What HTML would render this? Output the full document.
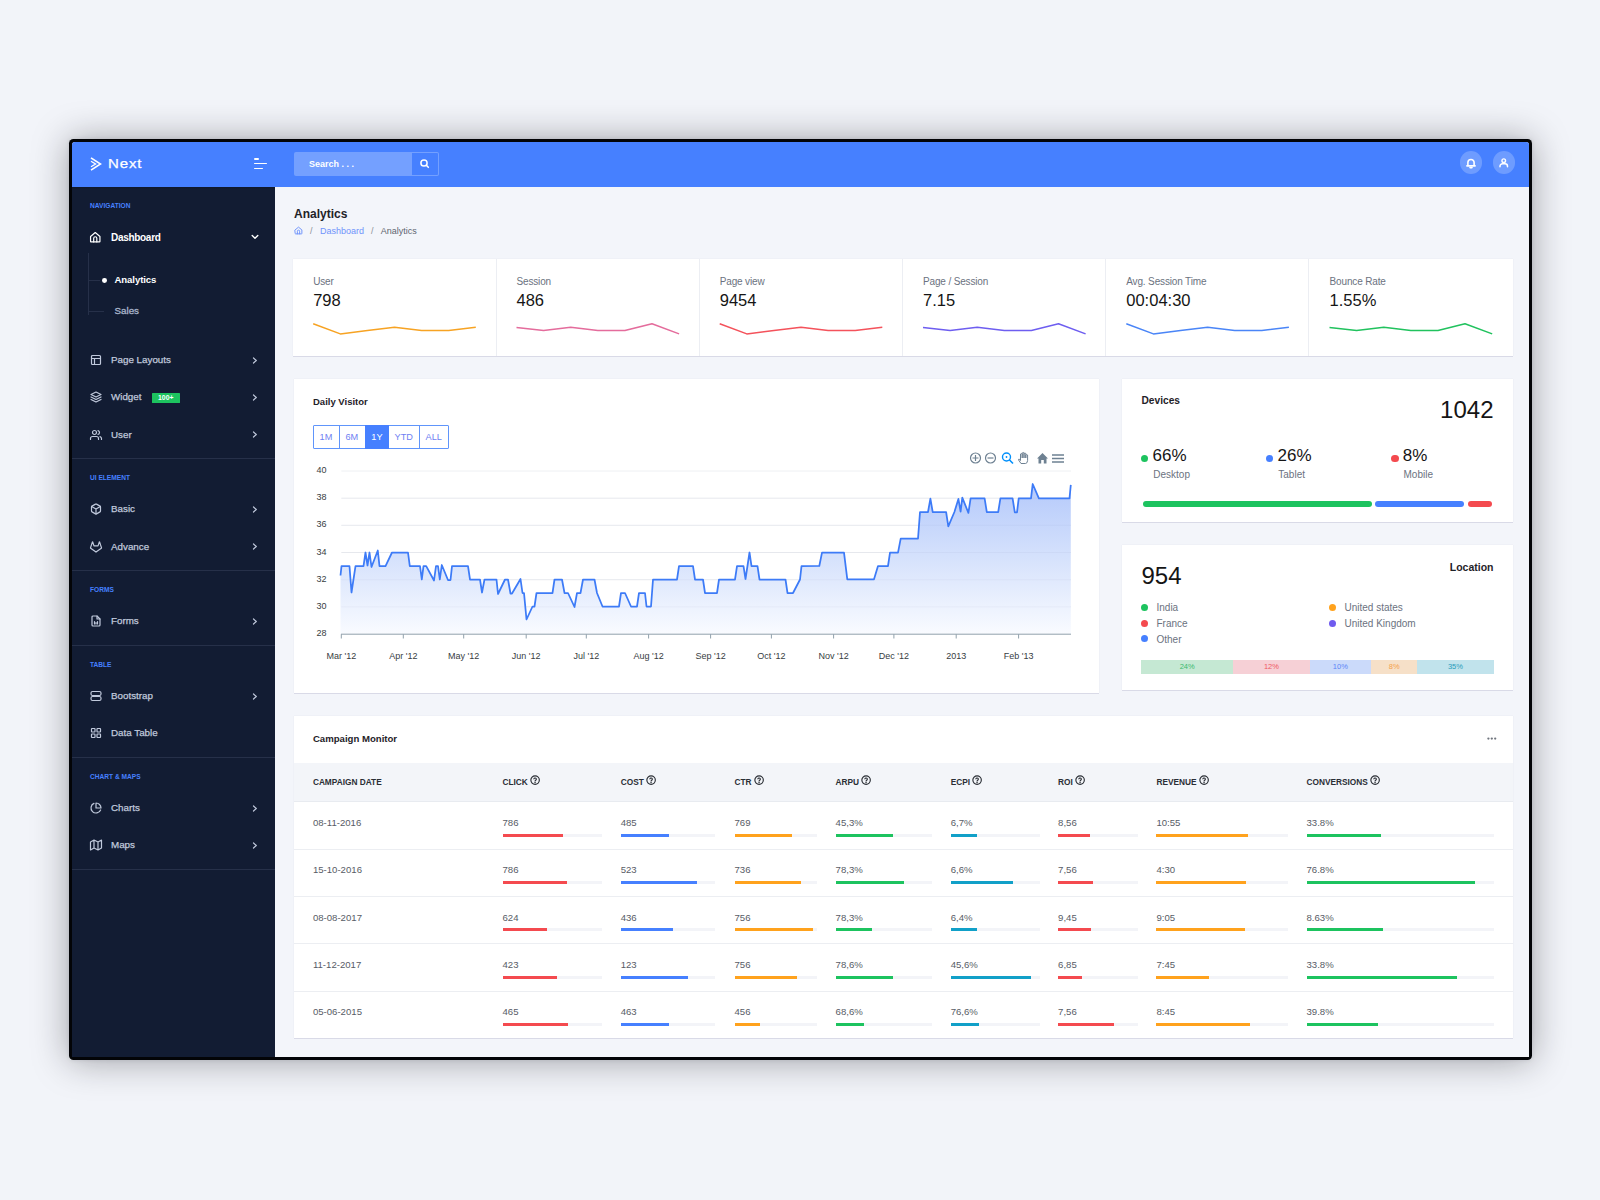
<!DOCTYPE html>
<html><head><meta charset="utf-8"><title>Next Analytics</title>
<style>
html,body{margin:0;padding:0;}
body{width:1600px;height:1200px;position:relative;overflow:hidden;background:#f2f4f9;font-family:"Liberation Sans", sans-serif;}
.t{position:absolute;white-space:nowrap;}
.b{position:absolute;}
svg{position:absolute;overflow:visible;}
</style></head><body>

<div class="b" style="left:69.00px;top:139.00px;width:1463.00px;height:921.00px;background:#030407;border-radius:4.5px;box-shadow:0 1px 36px rgba(22,22,30,0.38),0 0 4px rgba(22,22,30,0.10);"></div>
<div class="b" style="left:72.00px;top:142.00px;width:1457.00px;height:915.00px;background:#f3f5fa;border-radius:3px 3px 0 0;"></div>
<div class="b" style="left:72.00px;top:142.00px;width:1457.00px;height:44.50px;background:#4680ff;border-radius:3px 3px 0 0;"></div>
<div class="b" style="left:72.00px;top:186.50px;width:202.50px;height:870.50px;background:#121c33;"></div>
<div class="b" style="left:72.00px;top:186.50px;width:202.50px;height:3.50px;background:linear-gradient(rgba(0,0,0,0.18),rgba(0,0,0,0));"></div>
<svg style="left:90px;top:157px" width="12" height="14" viewBox="0 0 12 14"><path d="M1 0.8 L10.5 7 L1 13.2" fill="none" stroke="#fff" stroke-width="1.6" stroke-linejoin="miter"/><path d="M1 4.2 L5.6 7 L1 9.8" fill="none" stroke="#fff" stroke-width="1.3"/></svg>
<div class="t" style="left:108.00px;top:157.10px;font-size:12px;line-height:14.40px;font-weight:400;color:#ffffff;letter-spacing:0.7px;transform:scaleX(1.25);transform-origin:0 50%;-webkit-text-stroke:0.25px #fff;">Next</div>
<div class="b" style="left:254.40px;top:158.20px;width:4.80px;height:1.40px;background:#fff;border-radius:1px;"></div>
<div class="b" style="left:254.40px;top:163.10px;width:12.60px;height:1.40px;background:#fff;border-radius:1px;"></div>
<div class="b" style="left:254.40px;top:167.90px;width:8.60px;height:1.40px;background:#fff;border-radius:1px;"></div>
<div class="b" style="left:293.80px;top:151.80px;width:145.00px;height:24.00px;background:rgba(255,255,255,0.25);border-radius:2px;"></div>
<div class="b" style="left:411.90px;top:152.60px;width:26.20px;height:22.40px;background:#4680ff;border-radius:0 1px 1px 0;"></div>
<div class="t" style="left:309.00px;top:158.60px;font-size:9px;line-height:10.80px;font-weight:700;color:#ffffff;">Search . . .</div>
<svg style="left:419px;top:158px" width="11" height="11" viewBox="0 0 11 11"><circle cx="5" cy="5" r="3.1" fill="none" stroke="#fff" stroke-width="1.5"/><path d="M7.3 7.3 L9.3 9.3" stroke="#fff" stroke-width="1.6" stroke-linecap="round"/></svg>
<div class="b" style="left:1459.65px;top:151.25px;width:22.5px;height:22.5px;border-radius:50%;background:rgba(255,255,255,0.22);"></div>
<div class="b" style="left:1492.50px;top:151.25px;width:22.5px;height:22.5px;border-radius:50%;background:rgba(255,255,255,0.22);"></div>
<svg style="left:1466px;top:157.5px" width="10" height="10.5" viewBox="0 0 10 10.5"><path d="M1.9 7.6 V4.6 A3.1 3.1 0 0 1 8.1 4.6 V7.6 M0.9 7.9 H9.1" fill="none" stroke="#fff" stroke-width="1.6" stroke-linecap="round"/><path d="M4 9.6 H6" stroke="#fff" stroke-width="1.6" stroke-linecap="round"/></svg>
<svg style="left:1499px;top:158px" width="9.5" height="9.5" viewBox="0 0 9.5 9.5"><circle cx="4.75" cy="2.7" r="1.8" fill="none" stroke="#fff" stroke-width="1.4"/><path d="M1 8.8 V8.3 A2.5 2.5 0 0 1 3.5 5.8 H6 A2.5 2.5 0 0 1 8.5 8.3 V8.8" fill="none" stroke="#fff" stroke-width="1.5" stroke-linecap="round"/></svg>
<div class="t" style="left:90.00px;top:202.04px;font-size:6.6px;line-height:7.92px;font-weight:700;color:#4680ff;letter-spacing:0px;">NAVIGATION</div>
<svg style="left:89px;top:230.5px" width="12.5" height="12.5" viewBox="0 0 24 24" fill="none" stroke="#fff" stroke-width="2.3" stroke-linecap="round" stroke-linejoin="round"><path d="M3 10.5 L12 3 L21 10.5 V20 a1 1 0 0 1 -1 1 H4 a1 1 0 0 1 -1 -1 Z"/><path d="M9 21 V14 a3 3 0 0 1 6 0 V21"/></svg>
<div class="t" style="left:111.00px;top:232.20px;font-size:10px;line-height:12.00px;font-weight:700;color:#ffffff;letter-spacing:-0.3px;">Dashboard</div>
<svg style="left:251px;top:233.5px" width="8" height="6" viewBox="0 0 8 6"><path d="M1.2 1.5 L4 4.3 L6.8 1.5" fill="none" stroke="#fff" stroke-width="1.4" stroke-linecap="round" stroke-linejoin="round"/></svg>
<div class="b" style="left:88.00px;top:253.00px;width:0.80px;height:61.50px;background:#263049;"></div>
<div class="b" style="left:88.00px;top:279.60px;width:12.00px;height:0.80px;background:#263049;"></div>
<div class="b" style="left:88.00px;top:310.60px;width:16.00px;height:0.80px;background:#263049;"></div>
<div class="b" style="left:102.2px;top:277.8px;width:4.8px;height:4.8px;border-radius:50%;background:#fff;"></div>
<div class="t" style="left:114.50px;top:274.24px;font-size:9.6px;line-height:11.52px;font-weight:700;color:#ffffff;letter-spacing:-0.1px;">Analytics</div>
<div class="t" style="left:114.50px;top:305.12px;font-size:9.8px;line-height:11.76px;font-weight:400;color:#aab6cc;-webkit-text-stroke:0.3px #aab6cc;">Sales</div>
<svg style="left:89.5px;top:354.20px" width="12" height="12" viewBox="0 0 24 24" fill="none" stroke="#c0c9dc" stroke-width="2.4" stroke-linecap="round" stroke-linejoin="round"><rect x="3" y="3" width="18" height="18" rx="2"/><path d="M3 9 H21 M9 21 V9"/></svg>
<div class="t" style="left:111.00px;top:354.32px;font-size:9.8px;line-height:11.76px;font-weight:400;color:#c0c9dc;-webkit-text-stroke:0.25px #c0c9dc;">Page Layouts</div>
<svg style="left:251.5px;top:356.70px" width="6" height="7" viewBox="0 0 6 7"><path d="M1.5 1 L4.3 3.5 L1.5 6" fill="none" stroke="#c0c9dc" stroke-width="1.2" stroke-linecap="round" stroke-linejoin="round"/></svg>
<svg style="left:89.5px;top:391.00px" width="12" height="12" viewBox="0 0 24 24" fill="none" stroke="#c0c9dc" stroke-width="2.4" stroke-linecap="round" stroke-linejoin="round"><path d="M12 2 L2 7 L12 12 L22 7 Z"/><path d="M2 17 L12 22 L22 17"/><path d="M2 12 L12 17 L22 12"/></svg>
<div class="t" style="left:111.00px;top:391.12px;font-size:9.8px;line-height:11.76px;font-weight:400;color:#c0c9dc;-webkit-text-stroke:0.25px #c0c9dc;">Widget</div>
<svg style="left:251.5px;top:393.50px" width="6" height="7" viewBox="0 0 6 7"><path d="M1.5 1 L4.3 3.5 L1.5 6" fill="none" stroke="#c0c9dc" stroke-width="1.2" stroke-linecap="round" stroke-linejoin="round"/></svg>
<div class="b" style="left:151.90px;top:392.50px;width:27.70px;height:10.60px;background:#1dc35f;border-radius:0.5px;"></div>
<div class="t" style="left:65.75px;width:200px;text-align:center;top:393.72px;font-size:6.8px;line-height:8.16px;font-weight:700;color:#ffffff;">100+</div>
<svg style="left:89.5px;top:428.60px" width="12" height="12" viewBox="0 0 24 24" fill="none" stroke="#c0c9dc" stroke-width="2.4" stroke-linecap="round" stroke-linejoin="round"><path d="M17 21 v-2 a4 4 0 0 0 -4 -4 H5 a4 4 0 0 0 -4 4 v2"/><circle cx="9" cy="7" r="4"/><path d="M23 21 v-2 a4 4 0 0 0 -3 -3.87 M16 3.13 a4 4 0 0 1 0 7.75"/></svg>
<div class="t" style="left:111.00px;top:428.72px;font-size:9.8px;line-height:11.76px;font-weight:400;color:#c0c9dc;-webkit-text-stroke:0.25px #c0c9dc;">User</div>
<svg style="left:251.5px;top:431.10px" width="6" height="7" viewBox="0 0 6 7"><path d="M1.5 1 L4.3 3.5 L1.5 6" fill="none" stroke="#c0c9dc" stroke-width="1.2" stroke-linecap="round" stroke-linejoin="round"/></svg>
<div class="b" style="left:72.00px;top:457.80px;width:202.50px;height:1.00px;background:#263049;"></div>
<div class="t" style="left:90.00px;top:474.24px;font-size:6.6px;line-height:7.92px;font-weight:700;color:#4680ff;letter-spacing:0px;">UI ELEMENT</div>
<svg style="left:89.5px;top:503.30px" width="12" height="12" viewBox="0 0 24 24" fill="none" stroke="#c0c9dc" stroke-width="2.4" stroke-linecap="round" stroke-linejoin="round"><path d="M21 16 V8 a2 2 0 0 0 -1 -1.73 l-7 -4 a2 2 0 0 0 -2 0 l-7 4 A2 2 0 0 0 3 8 v8 a2 2 0 0 0 1 1.73 l7 4 a2 2 0 0 0 2 0 l7 -4 A2 2 0 0 0 21 16 z"/><path d="M3.27 6.96 L12 12.01 L20.73 6.96 M12 22.08 V12"/></svg>
<div class="t" style="left:111.00px;top:503.42px;font-size:9.8px;line-height:11.76px;font-weight:400;color:#c0c9dc;-webkit-text-stroke:0.25px #c0c9dc;">Basic</div>
<svg style="left:251.5px;top:505.80px" width="6" height="7" viewBox="0 0 6 7"><path d="M1.5 1 L4.3 3.5 L1.5 6" fill="none" stroke="#c0c9dc" stroke-width="1.2" stroke-linecap="round" stroke-linejoin="round"/></svg>
<svg style="left:89.5px;top:540.70px" width="12" height="12" viewBox="0 0 24 24" fill="none" stroke="#c0c9dc" stroke-width="2.4" stroke-linecap="round" stroke-linejoin="round"><path d="M22.65 14.39 L12 22.13 L1.35 14.39 a.84 .84 0 0 1 -.3 -.94 l1.22 -3.78 2.44 -7.51 A.42 .42 0 0 1 4.82 2 a.43 .43 0 0 1 .58 0 .42 .42 0 0 1 .11 .18 l2.44 7.49 h8.1 l2.44 -7.51 A.42 .42 0 0 1 18.6 2 a.43 .43 0 0 1 .58 0 .42 .42 0 0 1 .11 .18 l2.44 7.51 L23 13.45 a.84 .84 0 0 1 -.35 .94 z"/></svg>
<div class="t" style="left:111.00px;top:540.82px;font-size:9.8px;line-height:11.76px;font-weight:400;color:#c0c9dc;-webkit-text-stroke:0.25px #c0c9dc;">Advance</div>
<svg style="left:251.5px;top:543.20px" width="6" height="7" viewBox="0 0 6 7"><path d="M1.5 1 L4.3 3.5 L1.5 6" fill="none" stroke="#c0c9dc" stroke-width="1.2" stroke-linecap="round" stroke-linejoin="round"/></svg>
<div class="b" style="left:72.00px;top:569.80px;width:202.50px;height:1.00px;background:#263049;"></div>
<div class="t" style="left:90.00px;top:586.34px;font-size:6.6px;line-height:7.92px;font-weight:700;color:#4680ff;letter-spacing:0px;">FORMS</div>
<svg style="left:89.5px;top:615.25px" width="12" height="12" viewBox="0 0 24 24" fill="none" stroke="#c0c9dc" stroke-width="2.4" stroke-linecap="round" stroke-linejoin="round"><path d="M14 2 H6 a2 2 0 0 0 -2 2 v16 a2 2 0 0 0 2 2 h12 a2 2 0 0 0 2 -2 V8 z"/><path d="M14 2 v6 h6 M9 13 v5 M12 15 v3 M15 13 v5"/></svg>
<div class="t" style="left:111.00px;top:615.37px;font-size:9.8px;line-height:11.76px;font-weight:400;color:#c0c9dc;-webkit-text-stroke:0.25px #c0c9dc;">Forms</div>
<svg style="left:251.5px;top:617.75px" width="6" height="7" viewBox="0 0 6 7"><path d="M1.5 1 L4.3 3.5 L1.5 6" fill="none" stroke="#c0c9dc" stroke-width="1.2" stroke-linecap="round" stroke-linejoin="round"/></svg>
<div class="b" style="left:72.00px;top:645.00px;width:202.50px;height:1.00px;background:#263049;"></div>
<div class="t" style="left:90.00px;top:661.09px;font-size:6.6px;line-height:7.92px;font-weight:700;color:#4680ff;letter-spacing:0px;">TABLE</div>
<svg style="left:89.5px;top:690.25px" width="12" height="12" viewBox="0 0 24 24" fill="none" stroke="#c0c9dc" stroke-width="2.4" stroke-linecap="round" stroke-linejoin="round"><rect x="2" y="3" width="20" height="8" rx="3"/><rect x="2" y="13" width="20" height="8" rx="3"/></svg>
<div class="t" style="left:111.00px;top:690.37px;font-size:9.8px;line-height:11.76px;font-weight:400;color:#c0c9dc;-webkit-text-stroke:0.25px #c0c9dc;">Bootstrap</div>
<svg style="left:251.5px;top:692.75px" width="6" height="7" viewBox="0 0 6 7"><path d="M1.5 1 L4.3 3.5 L1.5 6" fill="none" stroke="#c0c9dc" stroke-width="1.2" stroke-linecap="round" stroke-linejoin="round"/></svg>
<svg style="left:89.5px;top:727.25px" width="12" height="12" viewBox="0 0 24 24" fill="none" stroke="#c0c9dc" stroke-width="2.4" stroke-linecap="round" stroke-linejoin="round"><rect x="3" y="3" width="7" height="7" rx="1"/><rect x="14" y="3" width="7" height="7" rx="1"/><rect x="14" y="14" width="7" height="7" rx="1"/><rect x="3" y="14" width="7" height="7" rx="1"/></svg>
<div class="t" style="left:111.00px;top:727.37px;font-size:9.8px;line-height:11.76px;font-weight:400;color:#c0c9dc;-webkit-text-stroke:0.25px #c0c9dc;">Data Table</div>
<div class="b" style="left:72.00px;top:757.00px;width:202.50px;height:1.00px;background:#263049;"></div>
<div class="t" style="left:90.00px;top:773.09px;font-size:6.6px;line-height:7.92px;font-weight:700;color:#4680ff;letter-spacing:0px;">CHART &amp; MAPS</div>
<svg style="left:89.5px;top:802.00px" width="12" height="12" viewBox="0 0 24 24" fill="none" stroke="#c0c9dc" stroke-width="2.4" stroke-linecap="round" stroke-linejoin="round"><path d="M21.21 15.89 A10 10 0 1 1 8 2.83"/><path d="M22 12 A10 10 0 0 0 12 2 v10 z"/></svg>
<div class="t" style="left:111.00px;top:802.12px;font-size:9.8px;line-height:11.76px;font-weight:400;color:#c0c9dc;-webkit-text-stroke:0.25px #c0c9dc;">Charts</div>
<svg style="left:251.5px;top:804.50px" width="6" height="7" viewBox="0 0 6 7"><path d="M1.5 1 L4.3 3.5 L1.5 6" fill="none" stroke="#c0c9dc" stroke-width="1.2" stroke-linecap="round" stroke-linejoin="round"/></svg>
<svg style="left:89.5px;top:839.00px" width="12" height="12" viewBox="0 0 24 24" fill="none" stroke="#c0c9dc" stroke-width="2.4" stroke-linecap="round" stroke-linejoin="round"><path d="M1 6 v16 l7 -4 8 4 7 -4 V2 l-7 4 -8 -4 -7 4 z M8 2 v16 M16 6 v16"/></svg>
<div class="t" style="left:111.00px;top:839.12px;font-size:9.8px;line-height:11.76px;font-weight:400;color:#c0c9dc;-webkit-text-stroke:0.25px #c0c9dc;">Maps</div>
<svg style="left:251.5px;top:841.50px" width="6" height="7" viewBox="0 0 6 7"><path d="M1.5 1 L4.3 3.5 L1.5 6" fill="none" stroke="#c0c9dc" stroke-width="1.2" stroke-linecap="round" stroke-linejoin="round"/></svg>
<div class="b" style="left:72.00px;top:869.00px;width:202.50px;height:1.00px;background:#263049;"></div>
<div class="t" style="left:294.00px;top:206.60px;font-size:12px;line-height:14.40px;font-weight:700;color:#1f2228;">Analytics</div>
<svg style="left:294px;top:225.5px" width="9" height="9" viewBox="0 0 24 24" fill="none" stroke="#6f93fb" stroke-width="2.6" stroke-linecap="round" stroke-linejoin="round"><path d="M3 10.5 L12 3 L21 10.5 V20 a1 1 0 0 1 -1 1 H4 a1 1 0 0 1 -1 -1 Z"/><path d="M9 21 V14 a3 3 0 0 1 6 0 V21"/></svg>
<div class="t" style="left:310.00px;top:226.20px;font-size:9px;line-height:10.80px;font-weight:400;color:#8a8f98;">/</div>
<div class="t" style="left:320.00px;top:226.20px;font-size:9px;line-height:10.80px;font-weight:400;color:#6f93fb;">Dashboard</div>
<div class="t" style="left:371.00px;top:226.20px;font-size:9px;line-height:10.80px;font-weight:400;color:#8a8f98;">/</div>
<div class="t" style="left:380.80px;top:226.20px;font-size:9px;line-height:10.80px;font-weight:400;color:#5f6570;">Analytics</div>
<div class="b" style="left:293.20px;top:258.80px;width:1219.60px;height:97.10px;background:#fff;box-shadow:0 1px 0 rgba(70,72,120,0.13),0 0 1px rgba(70,72,120,0.12);"></div>
<div class="b" style="left:496.00px;top:258.80px;width:1.00px;height:97.10px;background:#eceef3;"></div>
<div class="b" style="left:699.00px;top:258.80px;width:1.00px;height:97.10px;background:#eceef3;"></div>
<div class="b" style="left:901.70px;top:258.80px;width:1.00px;height:97.10px;background:#eceef3;"></div>
<div class="b" style="left:1104.80px;top:258.80px;width:1.00px;height:97.10px;background:#eceef3;"></div>
<div class="b" style="left:1308.00px;top:258.80px;width:1.00px;height:97.10px;background:#eceef3;"></div>
<div class="t" style="left:313.20px;top:276.30px;font-size:10px;line-height:12.00px;font-weight:400;color:#6b7280;letter-spacing:-0.15px;">User</div>
<div class="t" style="left:313.20px;top:291.20px;font-size:16.5px;line-height:19.80px;font-weight:400;color:#151515;">798</div>
<svg style="left:0;top:0" width="1600" height="1200"><polyline points="313.2,323.7 340.3,333.9 367.4,330.6 394.5,327.3 421.6,330.6 448.7,330.6 475.8,327.3" fill="none" stroke="#f7a323" stroke-width="1.5" stroke-linejoin="round"/></svg>
<div class="t" style="left:516.47px;top:276.30px;font-size:10px;line-height:12.00px;font-weight:400;color:#6b7280;letter-spacing:-0.15px;">Session</div>
<div class="t" style="left:516.47px;top:291.20px;font-size:16.5px;line-height:19.80px;font-weight:400;color:#151515;">486</div>
<svg style="left:0;top:0" width="1600" height="1200"><polyline points="516.5,327.6 543.6,330.6 570.7,327.3 597.8,330.6 624.9,330.6 652.0,323.7 679.1,333.9" fill="none" stroke="#e46c9c" stroke-width="1.5" stroke-linejoin="round"/></svg>
<div class="t" style="left:719.74px;top:276.30px;font-size:10px;line-height:12.00px;font-weight:400;color:#6b7280;letter-spacing:-0.15px;">Page view</div>
<div class="t" style="left:719.74px;top:291.20px;font-size:16.5px;line-height:19.80px;font-weight:400;color:#151515;">9454</div>
<svg style="left:0;top:0" width="1600" height="1200"><polyline points="719.7,323.7 746.8,333.9 773.9,330.6 801.0,327.3 828.1,330.6 855.2,330.6 882.3,327.3" fill="none" stroke="#f4525b" stroke-width="1.5" stroke-linejoin="round"/></svg>
<div class="t" style="left:923.01px;top:276.30px;font-size:10px;line-height:12.00px;font-weight:400;color:#6b7280;letter-spacing:-0.15px;">Page / Session</div>
<div class="t" style="left:923.01px;top:291.20px;font-size:16.5px;line-height:19.80px;font-weight:400;color:#151515;">7.15</div>
<svg style="left:0;top:0" width="1600" height="1200"><polyline points="923.0,327.6 950.1,330.6 977.2,327.3 1004.3,330.6 1031.4,330.6 1058.5,323.7 1085.6,333.9" fill="none" stroke="#6e5ef0" stroke-width="1.5" stroke-linejoin="round"/></svg>
<div class="t" style="left:1126.28px;top:276.30px;font-size:10px;line-height:12.00px;font-weight:400;color:#6b7280;letter-spacing:-0.15px;">Avg. Session Time</div>
<div class="t" style="left:1126.28px;top:291.20px;font-size:16.5px;line-height:19.80px;font-weight:400;color:#151515;">00:04:30</div>
<svg style="left:0;top:0" width="1600" height="1200"><polyline points="1126.3,323.7 1153.4,333.9 1180.5,330.6 1207.6,327.3 1234.7,330.6 1261.8,330.6 1288.9,327.3" fill="none" stroke="#4a85f7" stroke-width="1.5" stroke-linejoin="round"/></svg>
<div class="t" style="left:1329.55px;top:276.30px;font-size:10px;line-height:12.00px;font-weight:400;color:#6b7280;letter-spacing:-0.15px;">Bounce Rate</div>
<div class="t" style="left:1329.55px;top:291.20px;font-size:16.5px;line-height:19.80px;font-weight:400;color:#151515;">1.55%</div>
<svg style="left:0;top:0" width="1600" height="1200"><polyline points="1329.5,327.6 1356.6,330.6 1383.8,327.3 1410.8,330.6 1438.0,330.6 1465.0,323.7 1492.2,333.9" fill="none" stroke="#21c25e" stroke-width="1.5" stroke-linejoin="round"/></svg>
<div class="b" style="left:293.50px;top:379.20px;width:805.90px;height:314.10px;background:#fff;box-shadow:0 1px 0 rgba(70,72,120,0.13),0 0 1px rgba(70,72,120,0.12);"></div>
<div class="t" style="left:313.00px;top:396.30px;font-size:9.5px;line-height:11.40px;font-weight:700;color:#1f2228;">Daily Visitor</div>
<div class="b" style="left:313.00px;top:425.00px;width:135.50px;height:23.70px;border:1px solid #6095fb;box-sizing:border-box;border-radius:1px;"></div>
<div class="b" style="left:365.00px;top:425.00px;width:23.70px;height:23.70px;background:#4680ff;"></div>
<div class="b" style="left:338.90px;top:425.00px;width:1.00px;height:23.70px;background:#6095fb;"></div>
<div class="b" style="left:419.00px;top:425.00px;width:1.00px;height:23.70px;background:#6095fb;"></div>
<div class="t" style="left:226.00px;width:200px;text-align:center;top:432.08px;font-size:9.2px;line-height:11.04px;font-weight:400;color:#6f7ff2;">1M</div>
<div class="t" style="left:251.90px;width:200px;text-align:center;top:432.08px;font-size:9.2px;line-height:11.04px;font-weight:400;color:#6f7ff2;">6M</div>
<div class="t" style="left:276.90px;width:200px;text-align:center;top:432.08px;font-size:9.2px;line-height:11.04px;font-weight:400;color:#ffffff;">1Y</div>
<div class="t" style="left:303.80px;width:200px;text-align:center;top:432.08px;font-size:9.2px;line-height:11.04px;font-weight:400;color:#6f7ff2;">YTD</div>
<div class="t" style="left:333.70px;width:200px;text-align:center;top:432.08px;font-size:9.2px;line-height:11.04px;font-weight:400;color:#6f7ff2;">ALL</div>
<svg style="left:0;top:0" width="1600" height="1200"><defs><linearGradient id="ag" x1="0" y1="0" x2="0" y2="1"><stop offset="0" stop-color="#b4c9fb"/><stop offset="0.5" stop-color="#d6e2fc"/><stop offset="1" stop-color="#f9fbff"/></linearGradient></defs><line x1="341.3" y1="471.0" x2="1071" y2="471.0" stroke="#eef0f3" stroke-width="1"/><line x1="341.3" y1="498.2" x2="1071" y2="498.2" stroke="#eef0f3" stroke-width="1"/><line x1="341.3" y1="525.3" x2="1071" y2="525.3" stroke="#eef0f3" stroke-width="1"/><line x1="341.3" y1="552.5" x2="1071" y2="552.5" stroke="#eef0f3" stroke-width="1"/><line x1="341.3" y1="579.7" x2="1071" y2="579.7" stroke="#eef0f3" stroke-width="1"/><line x1="341.3" y1="606.8" x2="1071" y2="606.8" stroke="#eef0f3" stroke-width="1"/><path d="M340.5,634 L340.5,575.5 341.5,566.2 349.5,566.2 351.5,592.5 355.5,566.2 363.5,566.2 365.5,552.5 367.5,565.5 369.5,552.5 371.5,567.0 377.8,550.5 379.5,566.2 385.5,566.2 392.0,552.5 408.0,552.5 409.8,566.2 420.0,566.2 421.8,579.5 423.5,566.2 426.2,566.2 434.0,580.5 436.0,566.2 438.0,566.2 439.8,579.5 441.8,565.0 448.0,580.0 450.5,580.0 452.0,566.2 468.0,566.2 470.0,579.5 480.0,579.5 482.0,592.5 484.5,579.5 496.5,579.5 498.0,594.0 505.0,579.5 508.0,579.5 510.5,593.5 512.0,593.5 520.5,579.0 522.5,593.0 524.0,593.0 526.5,619.5 532.5,606.5 534.5,606.5 536.5,593.0 552.5,593.0 554.5,579.5 562.0,579.5 564.5,593.0 568.0,593.0 574.5,607.0 577.0,593.0 580.5,593.0 583.0,579.5 594.5,579.5 597.0,593.0 602.5,606.5 619.0,606.5 621.0,593.0 625.0,593.0 631.0,606.5 637.0,606.5 639.0,593.0 645.0,593.0 646.5,606.5 651.0,606.5 653.0,579.5 677.0,579.5 679.0,566.2 693.0,566.2 695.0,579.5 703.0,579.5 705.0,593.0 717.0,593.0 719.0,579.5 735.0,579.5 737.0,566.2 743.5,566.2 745.5,579.0 749.5,552.5 751.5,566.2 757.5,566.2 759.5,579.5 785.5,579.5 787.5,593.0 793.0,593.0 800.0,579.5 801.5,566.2 819.3,566.0 822.0,552.7 844.0,552.7 847.3,579.3 874.0,579.3 878.0,566.0 888.0,566.0 890.0,552.7 898.0,552.7 900.7,538.7 918.0,538.7 920.0,512.0 928.0,512.0 930.4,498.7 932.7,512.0 946.1,512.0 948.3,526.4 954.4,512.0 958.4,498.9 960.6,511.6 962.3,497.6 968.4,512.9 970.6,498.4 984.6,498.4 986.8,512.0 998.2,512.0 1000.4,498.4 1012.6,498.4 1014.8,512.4 1017.0,512.4 1018.7,498.4 1031.0,498.4 1032.7,484.0 1038.9,498.4 1069.5,498.4 1070.8,484.9 L1070.8,634 Z" fill="url(#ag)" stroke="none"/><line x1="341.3" y1="498.2" x2="1071" y2="498.2" stroke="rgba(60,70,110,0.045)" stroke-width="1"/><line x1="341.3" y1="525.3" x2="1071" y2="525.3" stroke="rgba(60,70,110,0.045)" stroke-width="1"/><line x1="341.3" y1="552.5" x2="1071" y2="552.5" stroke="rgba(60,70,110,0.045)" stroke-width="1"/><line x1="341.3" y1="579.7" x2="1071" y2="579.7" stroke="rgba(60,70,110,0.045)" stroke-width="1"/><line x1="341.3" y1="606.8" x2="1071" y2="606.8" stroke="rgba(60,70,110,0.045)" stroke-width="1"/><polyline points="340.5,575.5 341.5,566.2 349.5,566.2 351.5,592.5 355.5,566.2 363.5,566.2 365.5,552.5 367.5,565.5 369.5,552.5 371.5,567.0 377.8,550.5 379.5,566.2 385.5,566.2 392.0,552.5 408.0,552.5 409.8,566.2 420.0,566.2 421.8,579.5 423.5,566.2 426.2,566.2 434.0,580.5 436.0,566.2 438.0,566.2 439.8,579.5 441.8,565.0 448.0,580.0 450.5,580.0 452.0,566.2 468.0,566.2 470.0,579.5 480.0,579.5 482.0,592.5 484.5,579.5 496.5,579.5 498.0,594.0 505.0,579.5 508.0,579.5 510.5,593.5 512.0,593.5 520.5,579.0 522.5,593.0 524.0,593.0 526.5,619.5 532.5,606.5 534.5,606.5 536.5,593.0 552.5,593.0 554.5,579.5 562.0,579.5 564.5,593.0 568.0,593.0 574.5,607.0 577.0,593.0 580.5,593.0 583.0,579.5 594.5,579.5 597.0,593.0 602.5,606.5 619.0,606.5 621.0,593.0 625.0,593.0 631.0,606.5 637.0,606.5 639.0,593.0 645.0,593.0 646.5,606.5 651.0,606.5 653.0,579.5 677.0,579.5 679.0,566.2 693.0,566.2 695.0,579.5 703.0,579.5 705.0,593.0 717.0,593.0 719.0,579.5 735.0,579.5 737.0,566.2 743.5,566.2 745.5,579.0 749.5,552.5 751.5,566.2 757.5,566.2 759.5,579.5 785.5,579.5 787.5,593.0 793.0,593.0 800.0,579.5 801.5,566.2 819.3,566.0 822.0,552.7 844.0,552.7 847.3,579.3 874.0,579.3 878.0,566.0 888.0,566.0 890.0,552.7 898.0,552.7 900.7,538.7 918.0,538.7 920.0,512.0 928.0,512.0 930.4,498.7 932.7,512.0 946.1,512.0 948.3,526.4 954.4,512.0 958.4,498.9 960.6,511.6 962.3,497.6 968.4,512.9 970.6,498.4 984.6,498.4 986.8,512.0 998.2,512.0 1000.4,498.4 1012.6,498.4 1014.8,512.4 1017.0,512.4 1018.7,498.4 1031.0,498.4 1032.7,484.0 1038.9,498.4 1069.5,498.4 1070.8,484.9" fill="none" stroke="#3d7bf7" stroke-width="1.75" stroke-linejoin="round"/><line x1="341" y1="634.2" x2="1071" y2="634.2" stroke="#90a0ac" stroke-width="1"/><line x1="341.3" y1="634.2" x2="341.3" y2="638.5" stroke="#90a0ac" stroke-width="1"/><line x1="403.3" y1="634.2" x2="403.3" y2="638.5" stroke="#90a0ac" stroke-width="1"/><line x1="463.7" y1="634.2" x2="463.7" y2="638.5" stroke="#90a0ac" stroke-width="1"/><line x1="526.2" y1="634.2" x2="526.2" y2="638.5" stroke="#90a0ac" stroke-width="1"/><line x1="586.3" y1="634.2" x2="586.3" y2="638.5" stroke="#90a0ac" stroke-width="1"/><line x1="648.6" y1="634.2" x2="648.6" y2="638.5" stroke="#90a0ac" stroke-width="1"/><line x1="710.6" y1="634.2" x2="710.6" y2="638.5" stroke="#90a0ac" stroke-width="1"/><line x1="771.4" y1="634.2" x2="771.4" y2="638.5" stroke="#90a0ac" stroke-width="1"/><line x1="833.6" y1="634.2" x2="833.6" y2="638.5" stroke="#90a0ac" stroke-width="1"/><line x1="893.9" y1="634.2" x2="893.9" y2="638.5" stroke="#90a0ac" stroke-width="1"/><line x1="956.2" y1="634.2" x2="956.2" y2="638.5" stroke="#90a0ac" stroke-width="1"/><line x1="1018.6" y1="634.2" x2="1018.6" y2="638.5" stroke="#90a0ac" stroke-width="1"/></svg>
<div class="t" style="left:241.30px;width:200px;text-align:center;top:651.40px;font-size:9px;line-height:10.80px;font-weight:400;color:#373d3f;">Mar &#39;12</div>
<div class="t" style="left:303.30px;width:200px;text-align:center;top:651.40px;font-size:9px;line-height:10.80px;font-weight:400;color:#373d3f;">Apr &#39;12</div>
<div class="t" style="left:363.70px;width:200px;text-align:center;top:651.40px;font-size:9px;line-height:10.80px;font-weight:400;color:#373d3f;">May &#39;12</div>
<div class="t" style="left:426.20px;width:200px;text-align:center;top:651.40px;font-size:9px;line-height:10.80px;font-weight:400;color:#373d3f;">Jun &#39;12</div>
<div class="t" style="left:486.30px;width:200px;text-align:center;top:651.40px;font-size:9px;line-height:10.80px;font-weight:400;color:#373d3f;">Jul &#39;12</div>
<div class="t" style="left:548.60px;width:200px;text-align:center;top:651.40px;font-size:9px;line-height:10.80px;font-weight:400;color:#373d3f;">Aug &#39;12</div>
<div class="t" style="left:610.60px;width:200px;text-align:center;top:651.40px;font-size:9px;line-height:10.80px;font-weight:400;color:#373d3f;">Sep &#39;12</div>
<div class="t" style="left:671.40px;width:200px;text-align:center;top:651.40px;font-size:9px;line-height:10.80px;font-weight:400;color:#373d3f;">Oct &#39;12</div>
<div class="t" style="left:733.60px;width:200px;text-align:center;top:651.40px;font-size:9px;line-height:10.80px;font-weight:400;color:#373d3f;">Nov &#39;12</div>
<div class="t" style="left:793.90px;width:200px;text-align:center;top:651.40px;font-size:9px;line-height:10.80px;font-weight:400;color:#373d3f;">Dec &#39;12</div>
<div class="t" style="left:856.20px;width:200px;text-align:center;top:651.40px;font-size:9px;line-height:10.80px;font-weight:400;color:#373d3f;">2013</div>
<div class="t" style="left:918.60px;width:200px;text-align:center;top:651.40px;font-size:9px;line-height:10.80px;font-weight:400;color:#373d3f;">Feb &#39;13</div>
<div class="t" style="left:316.50px;top:465.12px;font-size:9px;line-height:10.80px;font-weight:400;color:#373d3f;">40</div>
<div class="t" style="left:316.50px;top:492.28px;font-size:9px;line-height:10.80px;font-weight:400;color:#373d3f;">38</div>
<div class="t" style="left:316.50px;top:519.44px;font-size:9px;line-height:10.80px;font-weight:400;color:#373d3f;">36</div>
<div class="t" style="left:316.50px;top:546.60px;font-size:9px;line-height:10.80px;font-weight:400;color:#373d3f;">34</div>
<div class="t" style="left:316.50px;top:573.76px;font-size:9px;line-height:10.80px;font-weight:400;color:#373d3f;">32</div>
<div class="t" style="left:316.50px;top:600.92px;font-size:9px;line-height:10.80px;font-weight:400;color:#373d3f;">30</div>
<div class="t" style="left:316.50px;top:628.08px;font-size:9px;line-height:10.80px;font-weight:400;color:#373d3f;">28</div>
<svg style="left:0;top:0" width="1600" height="1200"><circle cx="975.5" cy="458" r="5" fill="none" stroke="#6e8192" stroke-width="1.2"/><path d="M975.5 455 V461 M972.5 458 H978.5" stroke="#6e8192" stroke-width="1.2"/><circle cx="990.5" cy="458" r="5" fill="none" stroke="#6e8192" stroke-width="1.2"/><path d="M987.5 458 H993.5" stroke="#6e8192" stroke-width="1.2"/><circle cx="1006.5" cy="457" r="4" fill="none" stroke="#008ffb" stroke-width="1.4"/><circle cx="1006.5" cy="457" r="0.9" fill="#008ffb"/><path d="M1009.3 459.8 L1013 463.5" stroke="#008ffb" stroke-width="1.6"/><path d="M1021 463.5 L1018.6 460 Q1018.2 459 1019.3 459.2 L1020.5 460.5 V454 Q1021.3 452.8 1022.2 454 V458 V453 Q1023.1 451.9 1024 453 V458 V453.5 Q1025 452.5 1025.8 453.5 V458 V455 Q1026.8 454 1027.6 455 V460.5 Q1027.3 463.5 1025.5 463.5 Z" fill="none" stroke="#6e8192" stroke-width="1.0" stroke-linejoin="round"/><path d="M1037 458.5 L1042.5 453 L1048 458.5 H1046.5 V463.5 H1043.8 V460 H1041.2 V463.5 H1038.5 V458.5 Z" fill="#6e8192"/><path d="M1052 455 H1064 M1052 458.5 H1064 M1052 462 H1064" stroke="#6e8192" stroke-width="1.3"/></svg>
<div class="b" style="left:1121.80px;top:379.20px;width:391.10px;height:143.00px;background:#fff;box-shadow:0 1px 0 rgba(70,72,120,0.13),0 0 1px rgba(70,72,120,0.12);"></div>
<div class="t" style="left:1141.50px;top:395.48px;font-size:10.2px;line-height:12.24px;font-weight:700;color:#1f2228;">Devices</div>
<div class="t" style="right:106.50px;top:396.40px;font-size:24px;line-height:28.80px;font-weight:400;color:#151515;">1042</div>
<div class="b" style="left:1141.2px;top:455px;width:7.2px;height:7.2px;border-radius:50%;background:#1dc35f;"></div>
<div class="t" style="left:1152.50px;top:445.80px;font-size:17px;line-height:20.40px;font-weight:400;color:#151515;">66%</div>
<div class="t" style="left:1153.30px;top:468.50px;font-size:10px;line-height:12.00px;font-weight:400;color:#6b7280;">Desktop</div>
<div class="b" style="left:1266.2px;top:455px;width:7.2px;height:7.2px;border-radius:50%;background:#4680ff;"></div>
<div class="t" style="left:1277.50px;top:445.80px;font-size:17px;line-height:20.40px;font-weight:400;color:#151515;">26%</div>
<div class="t" style="left:1278.30px;top:468.50px;font-size:10px;line-height:12.00px;font-weight:400;color:#6b7280;">Tablet</div>
<div class="b" style="left:1391.4px;top:455px;width:7.2px;height:7.2px;border-radius:50%;background:#f44a4f;"></div>
<div class="t" style="left:1402.70px;top:445.80px;font-size:17px;line-height:20.40px;font-weight:400;color:#151515;">8%</div>
<div class="t" style="left:1403.50px;top:468.50px;font-size:10px;line-height:12.00px;font-weight:400;color:#6b7280;">Mobile</div>
<div class="b" style="left:1142.80px;top:500.90px;width:228.90px;height:5.70px;background:#1dc35f;border-radius:3px;"></div>
<div class="b" style="left:1375.00px;top:500.90px;width:88.80px;height:5.70px;background:#4680ff;border-radius:3px;"></div>
<div class="b" style="left:1467.50px;top:500.90px;width:24.70px;height:5.70px;background:#f44a4f;border-radius:3px;"></div>
<div class="b" style="left:1121.80px;top:545.00px;width:391.10px;height:144.90px;background:#fff;box-shadow:0 1px 0 rgba(70,72,120,0.13),0 0 1px rgba(70,72,120,0.12);"></div>
<div class="t" style="left:1141.50px;top:561.60px;font-size:24px;line-height:28.80px;font-weight:400;color:#151515;">954</div>
<div class="t" style="right:106.50px;top:560.70px;font-size:10.5px;line-height:12.60px;font-weight:700;color:#1f2228;">Location</div>
<div class="b" style="left:1141.0px;top:603.7px;width:7.2px;height:7.2px;border-radius:50%;background:#1dc35f;"></div>
<div class="t" style="left:1156.50px;top:601.90px;font-size:10px;line-height:12.00px;font-weight:400;color:#6b7280;">India</div>
<div class="b" style="left:1141.0px;top:619.5px;width:7.2px;height:7.2px;border-radius:50%;background:#f44a4f;"></div>
<div class="t" style="left:1156.50px;top:617.70px;font-size:10px;line-height:12.00px;font-weight:400;color:#6b7280;">France</div>
<div class="b" style="left:1141.0px;top:635.3px;width:7.2px;height:7.2px;border-radius:50%;background:#4680ff;"></div>
<div class="t" style="left:1156.50px;top:633.50px;font-size:10px;line-height:12.00px;font-weight:400;color:#6b7280;">Other</div>
<div class="b" style="left:1329.0px;top:603.7px;width:7.2px;height:7.2px;border-radius:50%;background:#ffa21d;"></div>
<div class="t" style="left:1344.50px;top:601.90px;font-size:10px;line-height:12.00px;font-weight:400;color:#6b7280;">United states</div>
<div class="b" style="left:1329.0px;top:619.5px;width:7.2px;height:7.2px;border-radius:50%;background:#6f5bef;"></div>
<div class="t" style="left:1344.50px;top:617.70px;font-size:10px;line-height:12.00px;font-weight:400;color:#6b7280;">United Kingdom</div>
<div class="b" style="left:1141.00px;top:659.70px;width:93.00px;height:14.40px;background:#c5e8d3;"></div>
<div class="t" style="left:1087.20px;width:200px;text-align:center;top:662.40px;font-size:7.5px;line-height:9.00px;font-weight:400;color:#3cba6e;">24%</div>
<div class="b" style="left:1233.40px;top:659.70px;width:76.70px;height:14.40px;background:#f6d0d6;"></div>
<div class="t" style="left:1171.45px;width:200px;text-align:center;top:662.40px;font-size:7.5px;line-height:9.00px;font-weight:400;color:#ef5a64;">12%</div>
<div class="b" style="left:1309.50px;top:659.70px;width:62.30px;height:14.40px;background:#cbdafa;"></div>
<div class="t" style="left:1240.35px;width:200px;text-align:center;top:662.40px;font-size:7.5px;line-height:9.00px;font-weight:400;color:#5b86f7;">10%</div>
<div class="b" style="left:1371.20px;top:659.70px;width:46.50px;height:14.40px;background:#f6e0c8;"></div>
<div class="t" style="left:1294.15px;width:200px;text-align:center;top:662.40px;font-size:7.5px;line-height:9.00px;font-weight:400;color:#f5a04a;">8%</div>
<div class="b" style="left:1417.10px;top:659.70px;width:77.20px;height:14.40px;background:#c1e3ec;"></div>
<div class="t" style="left:1355.40px;width:200px;text-align:center;top:662.40px;font-size:7.5px;line-height:9.00px;font-weight:400;color:#2b9dbb;">35%</div>
<div class="b" style="left:293.60px;top:715.90px;width:1219.00px;height:322.50px;background:#fff;box-shadow:0 1px 0 rgba(70,72,120,0.13),0 0 1px rgba(70,72,120,0.12);"></div>
<div class="t" style="left:312.90px;top:732.74px;font-size:9.6px;line-height:11.52px;font-weight:700;color:#1f2228;">Campaign Monitor</div>
<svg style="left:0;top:0" width="1600" height="1200"><circle cx="1488.4" cy="738.6" r="1.15" fill="#70757e"/><circle cx="1491.8" cy="738.6" r="1.15" fill="#70757e"/><circle cx="1495.2" cy="738.6" r="1.15" fill="#70757e"/></svg>
<div class="b" style="left:293.60px;top:762.60px;width:1219.00px;height:39.30px;background:#f3f5f9;"></div>
<div class="b" style="left:293.60px;top:801.40px;width:1219.00px;height:1.00px;background:#e8ebf0;"></div>
<div class="t" style="left:312.9px;top:776.9px;font-size:8.3px;line-height:10.8px;font-weight:700;color:#2a2e35;">CAMPAIGN DATE</div>
<div class="t" style="left:502.5px;top:776.9px;font-size:8.3px;line-height:10.8px;font-weight:700;color:#2a2e35;">CLICK<span style="position:relative;display:inline-block;width:12.5px;height:1px;"><svg style="position:absolute;left:2px;top:-8.5px" width="10.2" height="10.2" viewBox="0 0 24 24" fill="none" stroke="#2a2e35" stroke-width="2.7" stroke-linecap="round"><circle cx="12" cy="12" r="10"/><path d="M9.1 9 a3 3 0 0 1 5.83 1 c0 2 -3 2.6 -3 4.2"/><circle cx="12" cy="17.6" r="0.6" fill="#2a2e35"/></svg></span></div>
<div class="t" style="left:620.7px;top:776.9px;font-size:8.3px;line-height:10.8px;font-weight:700;color:#2a2e35;">COST<span style="position:relative;display:inline-block;width:12.5px;height:1px;"><svg style="position:absolute;left:2px;top:-8.5px" width="10.2" height="10.2" viewBox="0 0 24 24" fill="none" stroke="#2a2e35" stroke-width="2.7" stroke-linecap="round"><circle cx="12" cy="12" r="10"/><path d="M9.1 9 a3 3 0 0 1 5.83 1 c0 2 -3 2.6 -3 4.2"/><circle cx="12" cy="17.6" r="0.6" fill="#2a2e35"/></svg></span></div>
<div class="t" style="left:734.5px;top:776.9px;font-size:8.3px;line-height:10.8px;font-weight:700;color:#2a2e35;">CTR<span style="position:relative;display:inline-block;width:12.5px;height:1px;"><svg style="position:absolute;left:2px;top:-8.5px" width="10.2" height="10.2" viewBox="0 0 24 24" fill="none" stroke="#2a2e35" stroke-width="2.7" stroke-linecap="round"><circle cx="12" cy="12" r="10"/><path d="M9.1 9 a3 3 0 0 1 5.83 1 c0 2 -3 2.6 -3 4.2"/><circle cx="12" cy="17.6" r="0.6" fill="#2a2e35"/></svg></span></div>
<div class="t" style="left:835.6px;top:776.9px;font-size:8.3px;line-height:10.8px;font-weight:700;color:#2a2e35;">ARPU<span style="position:relative;display:inline-block;width:12.5px;height:1px;"><svg style="position:absolute;left:2px;top:-8.5px" width="10.2" height="10.2" viewBox="0 0 24 24" fill="none" stroke="#2a2e35" stroke-width="2.7" stroke-linecap="round"><circle cx="12" cy="12" r="10"/><path d="M9.1 9 a3 3 0 0 1 5.83 1 c0 2 -3 2.6 -3 4.2"/><circle cx="12" cy="17.6" r="0.6" fill="#2a2e35"/></svg></span></div>
<div class="t" style="left:950.7px;top:776.9px;font-size:8.3px;line-height:10.8px;font-weight:700;color:#2a2e35;">ECPI<span style="position:relative;display:inline-block;width:12.5px;height:1px;"><svg style="position:absolute;left:2px;top:-8.5px" width="10.2" height="10.2" viewBox="0 0 24 24" fill="none" stroke="#2a2e35" stroke-width="2.7" stroke-linecap="round"><circle cx="12" cy="12" r="10"/><path d="M9.1 9 a3 3 0 0 1 5.83 1 c0 2 -3 2.6 -3 4.2"/><circle cx="12" cy="17.6" r="0.6" fill="#2a2e35"/></svg></span></div>
<div class="t" style="left:1058.1px;top:776.9px;font-size:8.3px;line-height:10.8px;font-weight:700;color:#2a2e35;">ROI<span style="position:relative;display:inline-block;width:12.5px;height:1px;"><svg style="position:absolute;left:2px;top:-8.5px" width="10.2" height="10.2" viewBox="0 0 24 24" fill="none" stroke="#2a2e35" stroke-width="2.7" stroke-linecap="round"><circle cx="12" cy="12" r="10"/><path d="M9.1 9 a3 3 0 0 1 5.83 1 c0 2 -3 2.6 -3 4.2"/><circle cx="12" cy="17.6" r="0.6" fill="#2a2e35"/></svg></span></div>
<div class="t" style="left:1156.4px;top:776.9px;font-size:8.3px;line-height:10.8px;font-weight:700;color:#2a2e35;">REVENUE<span style="position:relative;display:inline-block;width:12.5px;height:1px;"><svg style="position:absolute;left:2px;top:-8.5px" width="10.2" height="10.2" viewBox="0 0 24 24" fill="none" stroke="#2a2e35" stroke-width="2.7" stroke-linecap="round"><circle cx="12" cy="12" r="10"/><path d="M9.1 9 a3 3 0 0 1 5.83 1 c0 2 -3 2.6 -3 4.2"/><circle cx="12" cy="17.6" r="0.6" fill="#2a2e35"/></svg></span></div>
<div class="t" style="left:1306.5px;top:776.9px;font-size:8.3px;line-height:10.8px;font-weight:700;color:#2a2e35;">CONVERSIONS<span style="position:relative;display:inline-block;width:12.5px;height:1px;"><svg style="position:absolute;left:2px;top:-8.5px" width="10.2" height="10.2" viewBox="0 0 24 24" fill="none" stroke="#2a2e35" stroke-width="2.7" stroke-linecap="round"><circle cx="12" cy="12" r="10"/><path d="M9.1 9 a3 3 0 0 1 5.83 1 c0 2 -3 2.6 -3 4.2"/><circle cx="12" cy="17.6" r="0.6" fill="#2a2e35"/></svg></span></div>
<div class="b" style="left:293.60px;top:848.80px;width:1219.00px;height:1.00px;background:#eceef2;"></div>
<div class="t" style="left:312.90px;top:817.14px;font-size:9.6px;line-height:11.52px;font-weight:400;color:#575c66;">08-11-2016</div>
<div class="t" style="left:502.50px;top:817.14px;font-size:9.6px;line-height:11.52px;font-weight:400;color:#575c66;">786</div>
<div class="b" style="left:502.50px;top:833.80px;width:99.60px;height:3.00px;background:#f3f4f8;"></div>
<div class="b" style="left:502.50px;top:833.80px;width:60.00px;height:3.00px;background:#f44a4f;"></div>
<div class="t" style="left:620.70px;top:817.14px;font-size:9.6px;line-height:11.52px;font-weight:400;color:#575c66;">485</div>
<div class="b" style="left:620.70px;top:833.80px;width:94.70px;height:3.00px;background:#f3f4f8;"></div>
<div class="b" style="left:620.70px;top:833.80px;width:48.10px;height:3.00px;background:#4680ff;"></div>
<div class="t" style="left:734.50px;top:817.14px;font-size:9.6px;line-height:11.52px;font-weight:400;color:#575c66;">769</div>
<div class="b" style="left:734.50px;top:833.80px;width:82.40px;height:3.00px;background:#f3f4f8;"></div>
<div class="b" style="left:734.50px;top:833.80px;width:57.40px;height:3.00px;background:#ffa21d;"></div>
<div class="t" style="left:835.60px;top:817.14px;font-size:9.6px;line-height:11.52px;font-weight:400;color:#575c66;">45,3%</div>
<div class="b" style="left:835.60px;top:833.80px;width:96.30px;height:3.00px;background:#f3f4f8;"></div>
<div class="b" style="left:835.60px;top:833.80px;width:57.80px;height:3.00px;background:#1dc35f;"></div>
<div class="t" style="left:950.70px;top:817.14px;font-size:9.6px;line-height:11.52px;font-weight:400;color:#575c66;">6,7%</div>
<div class="b" style="left:950.70px;top:833.80px;width:88.90px;height:3.00px;background:#f3f4f8;"></div>
<div class="b" style="left:950.70px;top:833.80px;width:26.60px;height:3.00px;background:#11a0c8;"></div>
<div class="t" style="left:1058.10px;top:817.14px;font-size:9.6px;line-height:11.52px;font-weight:400;color:#575c66;">8,56</div>
<div class="b" style="left:1058.10px;top:833.80px;width:79.60px;height:3.00px;background:#f3f4f8;"></div>
<div class="b" style="left:1058.10px;top:833.80px;width:31.90px;height:3.00px;background:#f44a4f;"></div>
<div class="t" style="left:1156.40px;top:817.14px;font-size:9.6px;line-height:11.52px;font-weight:400;color:#575c66;">10:55</div>
<div class="b" style="left:1156.40px;top:833.80px;width:131.20px;height:3.00px;background:#f3f4f8;"></div>
<div class="b" style="left:1156.40px;top:833.80px;width:92.00px;height:3.00px;background:#ffa21d;"></div>
<div class="t" style="left:1306.50px;top:817.14px;font-size:9.6px;line-height:11.52px;font-weight:400;color:#575c66;">33.8%</div>
<div class="b" style="left:1306.50px;top:833.80px;width:187.00px;height:3.00px;background:#f3f4f8;"></div>
<div class="b" style="left:1306.50px;top:833.80px;width:74.70px;height:3.00px;background:#1dc35f;"></div>
<div class="b" style="left:293.60px;top:896.10px;width:1219.00px;height:1.00px;background:#eceef2;"></div>
<div class="t" style="left:312.90px;top:864.44px;font-size:9.6px;line-height:11.52px;font-weight:400;color:#575c66;">15-10-2016</div>
<div class="t" style="left:502.50px;top:864.44px;font-size:9.6px;line-height:11.52px;font-weight:400;color:#575c66;">786</div>
<div class="b" style="left:502.50px;top:881.10px;width:99.60px;height:3.00px;background:#f3f4f8;"></div>
<div class="b" style="left:502.50px;top:881.10px;width:64.60px;height:3.00px;background:#f44a4f;"></div>
<div class="t" style="left:620.70px;top:864.44px;font-size:9.6px;line-height:11.52px;font-weight:400;color:#575c66;">523</div>
<div class="b" style="left:620.70px;top:881.10px;width:94.70px;height:3.00px;background:#f3f4f8;"></div>
<div class="b" style="left:620.70px;top:881.10px;width:76.30px;height:3.00px;background:#4680ff;"></div>
<div class="t" style="left:734.50px;top:864.44px;font-size:9.6px;line-height:11.52px;font-weight:400;color:#575c66;">736</div>
<div class="b" style="left:734.50px;top:881.10px;width:82.40px;height:3.00px;background:#f3f4f8;"></div>
<div class="b" style="left:734.50px;top:881.10px;width:66.00px;height:3.00px;background:#ffa21d;"></div>
<div class="t" style="left:835.60px;top:864.44px;font-size:9.6px;line-height:11.52px;font-weight:400;color:#575c66;">78,3%</div>
<div class="b" style="left:835.60px;top:881.10px;width:96.30px;height:3.00px;background:#f3f4f8;"></div>
<div class="b" style="left:835.60px;top:881.10px;width:68.00px;height:3.00px;background:#1dc35f;"></div>
<div class="t" style="left:950.70px;top:864.44px;font-size:9.6px;line-height:11.52px;font-weight:400;color:#575c66;">6,6%</div>
<div class="b" style="left:950.70px;top:881.10px;width:88.90px;height:3.00px;background:#f3f4f8;"></div>
<div class="b" style="left:950.70px;top:881.10px;width:62.50px;height:3.00px;background:#11a0c8;"></div>
<div class="t" style="left:1058.10px;top:864.44px;font-size:9.6px;line-height:11.52px;font-weight:400;color:#575c66;">7,56</div>
<div class="b" style="left:1058.10px;top:881.10px;width:79.60px;height:3.00px;background:#f3f4f8;"></div>
<div class="b" style="left:1058.10px;top:881.10px;width:34.90px;height:3.00px;background:#f44a4f;"></div>
<div class="t" style="left:1156.40px;top:864.44px;font-size:9.6px;line-height:11.52px;font-weight:400;color:#575c66;">4:30</div>
<div class="b" style="left:1156.40px;top:881.10px;width:131.20px;height:3.00px;background:#f3f4f8;"></div>
<div class="b" style="left:1156.40px;top:881.10px;width:89.70px;height:3.00px;background:#ffa21d;"></div>
<div class="t" style="left:1306.50px;top:864.44px;font-size:9.6px;line-height:11.52px;font-weight:400;color:#575c66;">76.8%</div>
<div class="b" style="left:1306.50px;top:881.10px;width:187.00px;height:3.00px;background:#f3f4f8;"></div>
<div class="b" style="left:1306.50px;top:881.10px;width:168.30px;height:3.00px;background:#1dc35f;"></div>
<div class="b" style="left:293.60px;top:943.40px;width:1219.00px;height:1.00px;background:#eceef2;"></div>
<div class="t" style="left:312.90px;top:911.74px;font-size:9.6px;line-height:11.52px;font-weight:400;color:#575c66;">08-08-2017</div>
<div class="t" style="left:502.50px;top:911.74px;font-size:9.6px;line-height:11.52px;font-weight:400;color:#575c66;">624</div>
<div class="b" style="left:502.50px;top:928.40px;width:99.60px;height:3.00px;background:#f3f4f8;"></div>
<div class="b" style="left:502.50px;top:928.40px;width:44.90px;height:3.00px;background:#f44a4f;"></div>
<div class="t" style="left:620.70px;top:911.74px;font-size:9.6px;line-height:11.52px;font-weight:400;color:#575c66;">436</div>
<div class="b" style="left:620.70px;top:928.40px;width:94.70px;height:3.00px;background:#f3f4f8;"></div>
<div class="b" style="left:620.70px;top:928.40px;width:52.30px;height:3.00px;background:#4680ff;"></div>
<div class="t" style="left:734.50px;top:911.74px;font-size:9.6px;line-height:11.52px;font-weight:400;color:#575c66;">756</div>
<div class="b" style="left:734.50px;top:928.40px;width:82.40px;height:3.00px;background:#f3f4f8;"></div>
<div class="b" style="left:734.50px;top:928.40px;width:78.80px;height:3.00px;background:#ffa21d;"></div>
<div class="t" style="left:835.60px;top:911.74px;font-size:9.6px;line-height:11.52px;font-weight:400;color:#575c66;">78,3%</div>
<div class="b" style="left:835.60px;top:928.40px;width:96.30px;height:3.00px;background:#f3f4f8;"></div>
<div class="b" style="left:835.60px;top:928.40px;width:36.60px;height:3.00px;background:#1dc35f;"></div>
<div class="t" style="left:950.70px;top:911.74px;font-size:9.6px;line-height:11.52px;font-weight:400;color:#575c66;">6,4%</div>
<div class="b" style="left:950.70px;top:928.40px;width:88.90px;height:3.00px;background:#f3f4f8;"></div>
<div class="b" style="left:950.70px;top:928.40px;width:26.40px;height:3.00px;background:#11a0c8;"></div>
<div class="t" style="left:1058.10px;top:911.74px;font-size:9.6px;line-height:11.52px;font-weight:400;color:#575c66;">9,45</div>
<div class="b" style="left:1058.10px;top:928.40px;width:79.60px;height:3.00px;background:#f3f4f8;"></div>
<div class="b" style="left:1058.10px;top:928.40px;width:32.60px;height:3.00px;background:#f44a4f;"></div>
<div class="t" style="left:1156.40px;top:911.74px;font-size:9.6px;line-height:11.52px;font-weight:400;color:#575c66;">9:05</div>
<div class="b" style="left:1156.40px;top:928.40px;width:131.20px;height:3.00px;background:#f3f4f8;"></div>
<div class="b" style="left:1156.40px;top:928.40px;width:88.20px;height:3.00px;background:#ffa21d;"></div>
<div class="t" style="left:1306.50px;top:911.74px;font-size:9.6px;line-height:11.52px;font-weight:400;color:#575c66;">8.63%</div>
<div class="b" style="left:1306.50px;top:928.40px;width:187.00px;height:3.00px;background:#f3f4f8;"></div>
<div class="b" style="left:1306.50px;top:928.40px;width:76.80px;height:3.00px;background:#1dc35f;"></div>
<div class="b" style="left:293.60px;top:990.70px;width:1219.00px;height:1.00px;background:#eceef2;"></div>
<div class="t" style="left:312.90px;top:959.04px;font-size:9.6px;line-height:11.52px;font-weight:400;color:#575c66;">11-12-2017</div>
<div class="t" style="left:502.50px;top:959.04px;font-size:9.6px;line-height:11.52px;font-weight:400;color:#575c66;">423</div>
<div class="b" style="left:502.50px;top:975.70px;width:99.60px;height:3.00px;background:#f3f4f8;"></div>
<div class="b" style="left:502.50px;top:975.70px;width:54.20px;height:3.00px;background:#f44a4f;"></div>
<div class="t" style="left:620.70px;top:959.04px;font-size:9.6px;line-height:11.52px;font-weight:400;color:#575c66;">123</div>
<div class="b" style="left:620.70px;top:975.70px;width:94.70px;height:3.00px;background:#f3f4f8;"></div>
<div class="b" style="left:620.70px;top:975.70px;width:67.00px;height:3.00px;background:#4680ff;"></div>
<div class="t" style="left:734.50px;top:959.04px;font-size:9.6px;line-height:11.52px;font-weight:400;color:#575c66;">756</div>
<div class="b" style="left:734.50px;top:975.70px;width:82.40px;height:3.00px;background:#f3f4f8;"></div>
<div class="b" style="left:734.50px;top:975.70px;width:62.10px;height:3.00px;background:#ffa21d;"></div>
<div class="t" style="left:835.60px;top:959.04px;font-size:9.6px;line-height:11.52px;font-weight:400;color:#575c66;">78,6%</div>
<div class="b" style="left:835.60px;top:975.70px;width:96.30px;height:3.00px;background:#f3f4f8;"></div>
<div class="b" style="left:835.60px;top:975.70px;width:57.90px;height:3.00px;background:#1dc35f;"></div>
<div class="t" style="left:950.70px;top:959.04px;font-size:9.6px;line-height:11.52px;font-weight:400;color:#575c66;">45,6%</div>
<div class="b" style="left:950.70px;top:975.70px;width:88.90px;height:3.00px;background:#f3f4f8;"></div>
<div class="b" style="left:950.70px;top:975.70px;width:79.90px;height:3.00px;background:#11a0c8;"></div>
<div class="t" style="left:1058.10px;top:959.04px;font-size:9.6px;line-height:11.52px;font-weight:400;color:#575c66;">6,85</div>
<div class="b" style="left:1058.10px;top:975.70px;width:79.60px;height:3.00px;background:#f3f4f8;"></div>
<div class="b" style="left:1058.10px;top:975.70px;width:24.10px;height:3.00px;background:#f44a4f;"></div>
<div class="t" style="left:1156.40px;top:959.04px;font-size:9.6px;line-height:11.52px;font-weight:400;color:#575c66;">7:45</div>
<div class="b" style="left:1156.40px;top:975.70px;width:131.20px;height:3.00px;background:#f3f4f8;"></div>
<div class="b" style="left:1156.40px;top:975.70px;width:52.50px;height:3.00px;background:#ffa21d;"></div>
<div class="t" style="left:1306.50px;top:959.04px;font-size:9.6px;line-height:11.52px;font-weight:400;color:#575c66;">33.8%</div>
<div class="b" style="left:1306.50px;top:975.70px;width:187.00px;height:3.00px;background:#f3f4f8;"></div>
<div class="b" style="left:1306.50px;top:975.70px;width:150.10px;height:3.00px;background:#1dc35f;"></div>
<div class="t" style="left:312.90px;top:1006.34px;font-size:9.6px;line-height:11.52px;font-weight:400;color:#575c66;">05-06-2015</div>
<div class="t" style="left:502.50px;top:1006.34px;font-size:9.6px;line-height:11.52px;font-weight:400;color:#575c66;">465</div>
<div class="b" style="left:502.50px;top:1023.00px;width:99.60px;height:3.00px;background:#f3f4f8;"></div>
<div class="b" style="left:502.50px;top:1023.00px;width:65.40px;height:3.00px;background:#f44a4f;"></div>
<div class="t" style="left:620.70px;top:1006.34px;font-size:9.6px;line-height:11.52px;font-weight:400;color:#575c66;">463</div>
<div class="b" style="left:620.70px;top:1023.00px;width:94.70px;height:3.00px;background:#f3f4f8;"></div>
<div class="b" style="left:620.70px;top:1023.00px;width:48.00px;height:3.00px;background:#4680ff;"></div>
<div class="t" style="left:734.50px;top:1006.34px;font-size:9.6px;line-height:11.52px;font-weight:400;color:#575c66;">456</div>
<div class="b" style="left:734.50px;top:1023.00px;width:82.40px;height:3.00px;background:#f3f4f8;"></div>
<div class="b" style="left:734.50px;top:1023.00px;width:25.30px;height:3.00px;background:#ffa21d;"></div>
<div class="t" style="left:835.60px;top:1006.34px;font-size:9.6px;line-height:11.52px;font-weight:400;color:#575c66;">68,6%</div>
<div class="b" style="left:835.60px;top:1023.00px;width:96.30px;height:3.00px;background:#f3f4f8;"></div>
<div class="b" style="left:835.60px;top:1023.00px;width:28.80px;height:3.00px;background:#1dc35f;"></div>
<div class="t" style="left:950.70px;top:1006.34px;font-size:9.6px;line-height:11.52px;font-weight:400;color:#575c66;">76,6%</div>
<div class="b" style="left:950.70px;top:1023.00px;width:88.90px;height:3.00px;background:#f3f4f8;"></div>
<div class="b" style="left:950.70px;top:1023.00px;width:28.00px;height:3.00px;background:#11a0c8;"></div>
<div class="t" style="left:1058.10px;top:1006.34px;font-size:9.6px;line-height:11.52px;font-weight:400;color:#575c66;">7,56</div>
<div class="b" style="left:1058.10px;top:1023.00px;width:79.60px;height:3.00px;background:#f3f4f8;"></div>
<div class="b" style="left:1058.10px;top:1023.00px;width:56.20px;height:3.00px;background:#f44a4f;"></div>
<div class="t" style="left:1156.40px;top:1006.34px;font-size:9.6px;line-height:11.52px;font-weight:400;color:#575c66;">8:45</div>
<div class="b" style="left:1156.40px;top:1023.00px;width:131.20px;height:3.00px;background:#f3f4f8;"></div>
<div class="b" style="left:1156.40px;top:1023.00px;width:93.60px;height:3.00px;background:#ffa21d;"></div>
<div class="t" style="left:1306.50px;top:1006.34px;font-size:9.6px;line-height:11.52px;font-weight:400;color:#575c66;">39.8%</div>
<div class="b" style="left:1306.50px;top:1023.00px;width:187.00px;height:3.00px;background:#f3f4f8;"></div>
<div class="b" style="left:1306.50px;top:1023.00px;width:71.00px;height:3.00px;background:#1dc35f;"></div>
</body></html>
